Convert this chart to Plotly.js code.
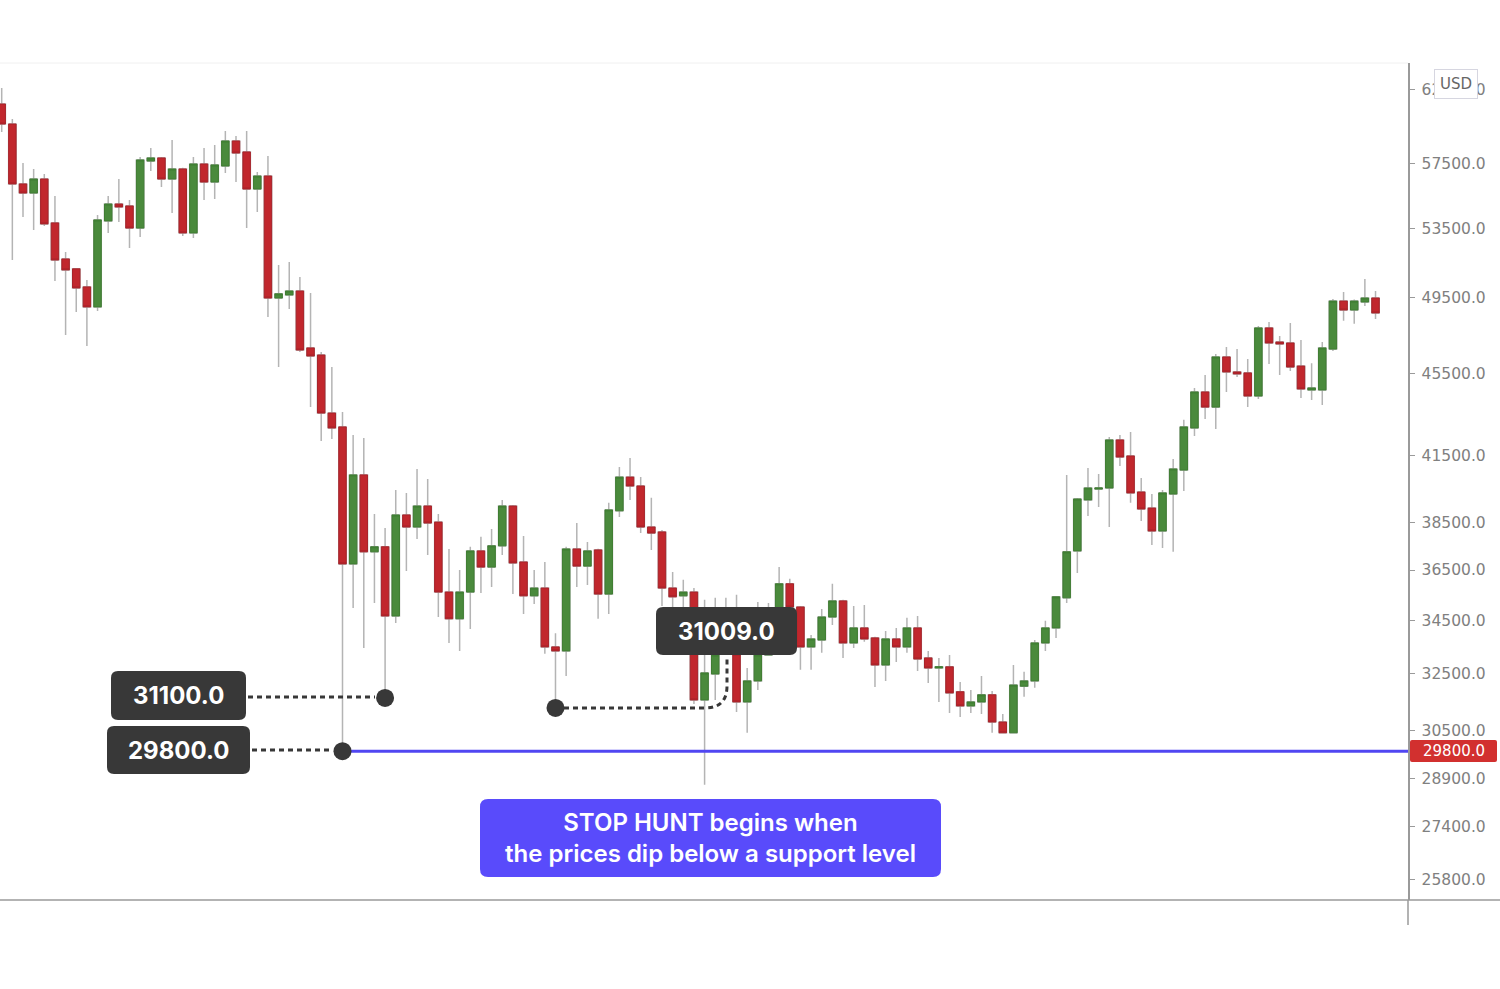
<!DOCTYPE html>
<html>
<head>
<meta charset="utf-8">
<script src="https://cdn.plot.ly/plotly-3.0.1.min.js"></script>
<style>html,body{margin:0;padding:0;background:#fff;}#chart{width:1500px;height:989px;}</style>
</head>
<body>
<div id="chart"></div>
<script>
// ---- data ----
const openP = [61490,60130,56230,55660,56540,53830,51700,51130,50110,49000,
53950,54980,54860,53520,57690,57890,56540,57180,53230,57500,
56350,57370,59000,58280,55910,56730,49490,49660,49880,46800,
46430,43510,42840,36750,40600,37250,37460,34670,38820,38300,
39210,38510,35610,34560,35610,37290,36620,37500,39210,36830,
35460,35770,33490,33340,37370,36660,37330,35530,39000,40500,
40100,38300,38090,35770,35460,35610,31560,32490,33380,33190,
31490,32240,33190,34130,35940,35020,33490,33750,34630,35260,
33640,34210,33830,32820,33790,33490,34210,33080,32710,32750,
31850,31350,31490,31740,30790,30420,32050,32240,33640,34210,
35380,37290,39480,39960,40010,42220,41470,39830,39120,38130,
39740,40820,42790,44550,43800,46330,45560,45510,44350,47860,
47110,47060,45860,44650,44650,46740,49320,48830,49270,49490];
const highP = [62610,60470,57570,57180,56860,55480,52100,51180,50500,54310,
55480,56540,55230,57950,58540,57950,59070,57250,57950,58540,
58740,59660,59330,59660,56990,58020,51350,51520,50670,49770,
46590,45810,43560,42450,42310,38860,38260,39920,39790,40870,
40410,38860,37370,36500,37460,37880,38210,39480,39260,37920,
36500,36830,34010,37460,38470,37660,37380,39350,40960,41380,
40500,39570,38170,36420,36100,35770,35300,35380,35380,35500,
32710,35220,35180,36620,36140,35060,33940,34940,35940,35300,
35060,35100,33870,34090,34210,34600,34670,33340,33080,33190,
32200,31915,32420,31880,31070,32820,32570,33750,34480,35420,
40600,39560,40920,40640,42360,42450,42600,40460,39740,39920,
41330,43180,44750,45400,46480,46850,46740,46220,47960,48180,
47430,48130,47220,46010,47110,49440,49830,49400,50560,49880];
const lowP = [59600,51640,54190,53405,53650,50440,47480,48720,46900,48780,
53230,53890,52340,52990,57050,56040,54430,53050,52930,55230,
55290,56920,56350,53520,54490,48450,45810,48880,46590,43800,
42170,42270,29800,34980,33450,35180,31630,34400,36460,37790,
37120,34630,33640,33340,34170,35570,35810,37120,35530,34750,
35140,33230,31280,32420,35810,35890,34560,34750,38730,39480,
38040,37330,35060,34940,34710,31420,28700,31560,33190,31140,
30420,31915,33190,33750,34820,32640,32640,33270,34320,33080,
33450,33680,32020,32240,32930,33270,32600,32160,31490,31100,
30960,31100,31070,30420,30400,30400,31670,31990,33340,33830,
35180,36380,38770,39170,38300,41010,39350,38560,37540,37410,
37250,39880,42410,43220,42740,44550,45300,43800,44200,45960,
45400,45610,44250,44150,43900,46640,48240,48080,49050,48340];
const closeP = [60130,56230,55660,56540,53770,51640,51070,50050,49000,54010,
54980,54800,53520,57760,57890,56540,57180,53230,57500,56350,
57440,59000,58210,55910,56730,49490,49720,49880,46690,46380,
43510,42790,36750,40600,37250,37460,34670,38820,38300,39210,
38470,35610,34560,35610,37290,36620,37500,39210,36790,35460,
35770,33490,33340,37370,36660,37290,35530,39040,40500,40100,
38300,38040,35770,35420,35610,31560,32530,33190,34320,31490,
32240,33190,34130,35940,35020,33490,33790,34630,35260,33640,
34210,33790,32820,33790,33490,34210,33040,32710,32750,31810,
31350,31490,31740,30790,30420,32090,32240,33640,34210,35420,
37250,39520,40010,40010,42220,41420,39790,39080,38130,39790,
40870,42840,44550,43800,46330,45560,45460,44350,47860,47060,
47010,45810,44700,44750,46800,49320,48830,49320,49490,48670];
const tickVals = [62500,57500,53500,49500,45500,41500,38500,36500,34500,32500,30500,28900,27400,25800];
const tickText = tickVals.map(v => v.toFixed(1));
const support = 29800;
const markedLows = [32, 36, 52];           // candles whose lows are marked
const labelTexts = ['31100.0', '29800.0', '31009.0'];
const calloutText = 'STOP HUNT begins when<br>the prices dip below a support level';
const xIdx = openP.map((_, i) => i);

// ---- geometry helpers (pixel -> paper) ----
const PW = 1408, PB = 900, PH = 837;
const px = x => x / PW;
const py = y => (PB - y) / PH;
function rrect(x0, y0, x1, y1, r) {
  const P = (x, y) => px(x) + ',' + py(y);
  return 'M' + P(x0 + r, y0) + ' L' + P(x1 - r, y0) + ' Q' + P(x1, y0) + ' ' + P(x1, y0 + r) +
    ' L' + P(x1, y1 - r) + ' Q' + P(x1, y1) + ' ' + P(x1 - r, y1) +
    ' L' + P(x0 + r, y1) + ' Q' + P(x0, y1) + ' ' + P(x0, y1 - r) +
    ' L' + P(x0, y0 + r) + ' Q' + P(x0, y0) + ' ' + P(x0 + r, y0) + ' Z';
}

const bodyHigh = openP.map((o, i) => Math.max(o, closeP[i]));
const bodyLow = openP.map((o, i) => Math.min(o, closeP[i]));

const traces = [
  { // wicks
    type: 'candlestick', x: xIdx, open: openP, high: highP, low: lowP, close: closeP,
    increasing: { line: { color: '#b4b4b4', width: 1.5 }, fillcolor: 'rgba(0,0,0,0)' },
    decreasing: { line: { color: '#b4b4b4', width: 1.5 }, fillcolor: 'rgba(0,0,0,0)' },
    hoverinfo: 'skip', showlegend: false
  },
  { // bodies
    type: 'candlestick', x: xIdx, open: openP, high: bodyHigh, low: bodyLow, close: closeP,
    increasing: { line: { color: '#3f7d32', width: 1 }, fillcolor: '#4a8a3c' },
    decreasing: { line: { color: '#a8232a', width: 1 }, fillcolor: '#c1272d' },
    hoverinfo: 'skip', showlegend: false
  },
  { // support line
    type: 'scatter', mode: 'lines', x: [markedLows[0], 132.05], y: [support, support],
    line: { color: '#5046f2', width: 3 }, hoverinfo: 'skip', showlegend: false, cliponaxis: false
  },
  { // marked lows
    type: 'scatter', mode: 'markers', x: markedLows, y: markedLows.map(i => lowP[i]),
    marker: { color: '#383838', size: 18 }, hoverinfo: 'skip', showlegend: false, cliponaxis: false
  }
];

const dash = { color: '#383838', width: 3, dash: '5px,4px' };
const shapes = [
  { type: 'line', xref: 'paper', yref: 'paper', x0: 0, x1: 1, y0: 1, y1: 1, line: { color: '#f0f0f0', width: 1 } },
  { type: 'line', xref: 'paper', yref: 'paper', x0: 0, x1: px(1500), y0: 0, y1: 0, line: { color: '#9a9a9a', width: 1.5 } },
  { type: 'line', xref: 'paper', yref: 'paper', x0: 1, x1: 1, y0: 0, y1: py(925), line: { color: '#9a9a9a', width: 1.5 } },
  { type: 'path', xref: 'paper', yref: 'paper', path: 'M' + px(248) + ',' + py(697) + ' L' + px(375) + ',' + py(697), line: dash },
  { type: 'path', xref: 'paper', yref: 'paper', path: 'M' + px(252) + ',' + py(750) + ' L' + px(332) + ',' + py(750), line: dash },
  { type: 'path', xref: 'paper', yref: 'paper',
    path: 'M' + px(564) + ',' + py(708) + ' L' + px(705) + ',' + py(708) + ' Q' + px(727) + ',' + py(708) + ' ' + px(727) + ',' + py(686) + ' L' + px(727) + ',' + py(656),
    line: dash },
  { type: 'path', xref: 'paper', yref: 'paper', path: rrect(111, 671, 246, 720, 7), fillcolor: '#383838', line: { width: 0 } },
  { type: 'path', xref: 'paper', yref: 'paper', path: rrect(107, 726, 250, 774, 7), fillcolor: '#383838', line: { width: 0 } },
  { type: 'path', xref: 'paper', yref: 'paper', path: rrect(656, 607, 797, 655, 7), fillcolor: '#383838', line: { width: 0 } },
  { type: 'path', xref: 'paper', yref: 'paper', path: rrect(480, 799, 941, 877, 8), fillcolor: '#594bfb', line: { width: 0 } },
  { type: 'path', xref: 'paper', yref: 'paper', path: rrect(1410, 740, 1497, 762, 2), fillcolor: '#d2302f', line: { width: 0 } }
];

const labelFont = { family: 'Inter, "Open Sans", sans-serif', size: 24, color: '#ffffff', weight: 700 };
const annotations = [
  { xref: 'paper', yref: 'paper', x: px(178.5), y: py(695.5), text: labelTexts[0], showarrow: false, font: labelFont, xanchor: 'center', yanchor: 'middle' },
  { xref: 'paper', yref: 'paper', x: px(178.5), y: py(750), text: labelTexts[1], showarrow: false, font: labelFont, xanchor: 'center', yanchor: 'middle' },
  { xref: 'paper', yref: 'paper', x: px(726.5), y: py(631), text: labelTexts[2], showarrow: false, font: labelFont, xanchor: 'center', yanchor: 'middle' },
  { xref: 'paper', yref: 'paper', x: px(710.5), y: py(838), text: calloutText, showarrow: false,
    font: { family: 'Inter, "Open Sans", sans-serif', size: 24, color: '#ffffff', weight: 600 }, xanchor: 'center', yanchor: 'middle' },
  { xref: 'paper', yref: 'paper', x: px(1453.5), y: py(751), text: support.toFixed(1), showarrow: false,
    font: { family: '"DejaVu Sans", sans-serif', size: 15, color: '#ffffff' }, xanchor: 'center', yanchor: 'middle' },
  { xref: 'paper', yref: 'paper', x: px(1456), y: py(83.5), text: 'USD', showarrow: false,
    font: { family: '"DejaVu Sans", sans-serif', size: 15, color: '#666666' }, xanchor: 'center', yanchor: 'middle',
    bgcolor: '#ffffff', bordercolor: '#d6d6e0', borderwidth: 1, borderpad: 5 }
];

const layout = {
  width: 1500, height: 989,
  margin: { l: 0, r: 92, t: 63, b: 89, pad: 0 },
  paper_bgcolor: '#ffffff', plot_bgcolor: '#ffffff',
  showlegend: false,
  boxmode: 'overlay', boxgap: 0.3, boxgroupgap: 0,
  xaxis: { range: [-0.16, 132.05], showgrid: false, zeroline: false, showticklabels: false, ticks: '',
    showline: false, rangeslider: { visible: false }, fixedrange: true },
  yaxis: { type: 'log', side: 'right', range: [Math.log10(25228), Math.log10(64380)],
    tickvals: tickVals, ticktext: tickText, ticks: 'outside', ticklen: 5, tickwidth: 1, tickcolor: '#9a9a9a',
    showgrid: false, zeroline: false, showline: true, linecolor: '#9a9a9a', linewidth: 1.5,
    tickfont: { family: '"DejaVu Sans", sans-serif', size: 15.5, color: '#808080' }, ticklabelstandoff: 4, fixedrange: true },
  shapes: shapes,
  annotations: annotations
};

Plotly.newPlot('chart', traces, layout, { staticPlot: true, displayModeBar: false });
</script>
</body>
</html>
